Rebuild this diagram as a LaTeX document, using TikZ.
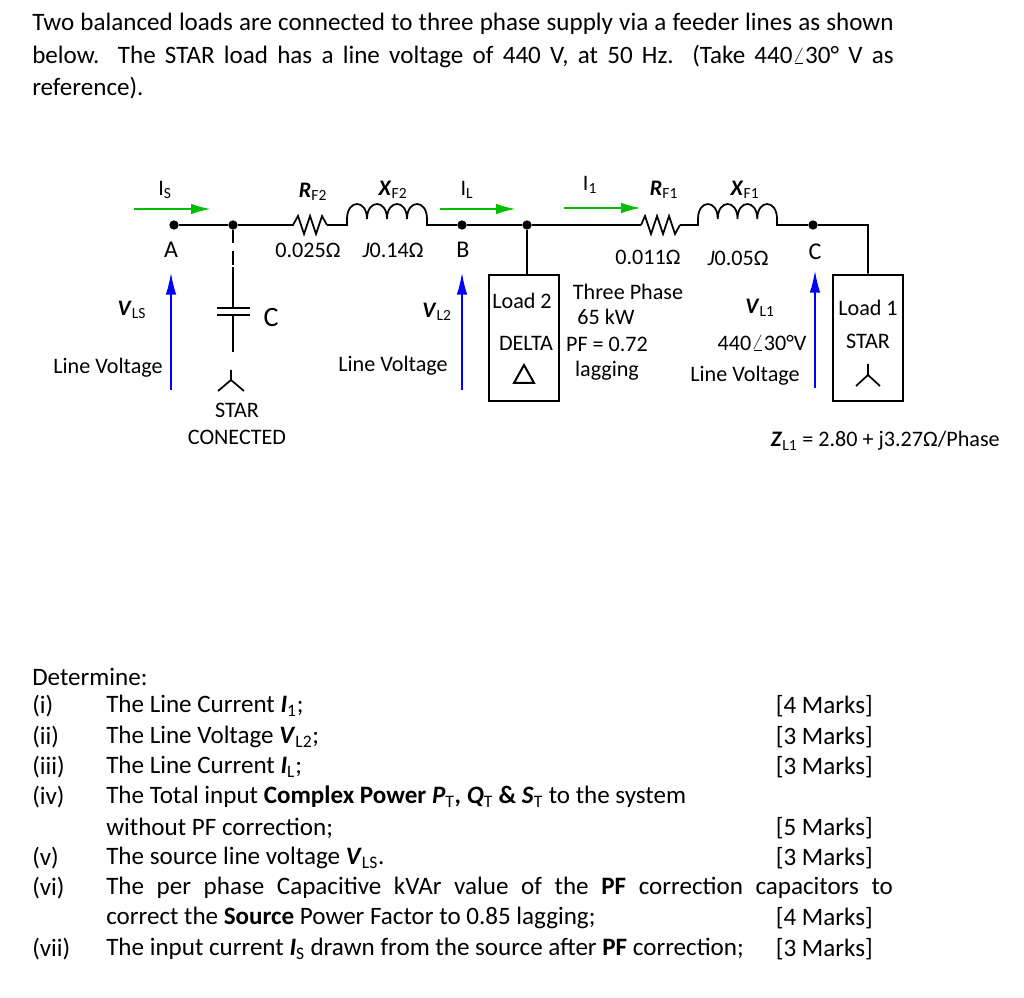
\documentclass[tikz,border=0pt]{standalone}
\usepackage{fontspec}
\setmainfont{Carlito}
\usetikzlibrary{arrows.meta}
\begin{document}
\begin{tikzpicture}[x=0.75pt,y=-0.75pt,
 txt/.style={font=\fontsize{18.8}{22}\selectfont,inner sep=0pt},
 lab/.style={font=\fontsize{16.6}{19}\selectfont,inner sep=0pt},
 wire/.style={line width=1.3pt},
 dot/.style={circle,fill=black,inner sep=0pt,minimum size=7pt},
 garr/.style={line width=1.8pt,green!75!black,-{Latex[length=15pt,width=8pt]}},
 barr/.style={line width=1.8pt,blue,-{Latex[length=17pt,width=8pt]}},
 box/.style={draw,line width=1.5pt,minimum width=52pt,minimum height=95pt,inner sep=0pt}]
\useasboundingbox (0,0) rectangle (1024,998);
% top text
\node[txt,anchor=west] (t1) at (32,24) {\makebox[646pt][s]{Two balanced loads are connected to three phase supply via a feeder lines as shown}};
\node[txt,anchor=west] (t2) at (32,56) {\makebox[646pt][s]{below.\ \ The STAR load has a line voltage of 440 V, at 50 Hz.\ \ (Take 440\ensuremath{\angle}30° V as}};
\node[txt,anchor=west] (t3) at (32,88) {reference).};
% nodes
\node[dot] (A) at (174,225) {};
\node[dot] (N1) at (233,225) {};
\node[dot] (B) at (462,225) {};
\node[dot] (J) at (527,225) {};
\node[dot] (C) at (813,225) {};
\coordinate (r2a) at (288,225); \coordinate (r2b) at (327,225);
\coordinate (x2a) at (347,225); \coordinate (x2b) at (427,225);
\coordinate (r1a) at (641,225); \coordinate (r1b) at (680,225);
\coordinate (x1a) at (698,225); \coordinate (x1b) at (777,225);
\node[box] (L2) at (524,338) {};
\node[box] (L1) at (868,338) {};
% wires
\draw[wire] (A) -- (N1) -- (r2a);
\draw[wire] (r2a) -- ++(5,0) -- ++(5,-9) -- ++(6,18) -- ++(6,-18) -- ++(6,18) -- ++(6,-18) -- ++(5,9) -- (r2b);
\draw[wire] (r2b) -- ++(20,0) -- ++(0,-6) .. controls +(0,-20) and +(0,-20) .. ++(20,0) .. controls +(0,-20) and +(0,-20) .. ++(20,0) .. controls +(0,-20) and +(0,-20) .. ++(20,0) .. controls +(0,-20) and +(0,-20) .. ++(20,0) -- (x2b) -- (B) -- (J) -- (r1a);
\draw[wire] (J) -- (L2.north -| J);
\draw[wire] (r1a) -- ++(4,-9) -- ++(6,18) -- ++(6,-18) -- ++(6,18) -- ++(6,-18) -- ++(6,18) -- ++(5,-9) -- (r1b);
\draw[wire] (r1b) -- (x1a) -- ++(0,-6) .. controls +(0,-20) and +(0,-20) .. ++(19.75,0) .. controls +(0,-20) and +(0,-20) .. ++(19.75,0) .. controls +(0,-20) and +(0,-20) .. ++(19.75,0) .. controls +(0,-20) and +(0,-20) .. ++(19.75,0) -- (x1b) -- (C) -- (868,225) -- (L1.north);
% capacitor
\coordinate (c1) at (233,267); \coordinate (c2) at (233,308); \coordinate (c3) at (233,315); \coordinate (c4) at (233,352);
\draw[wire,dash pattern=on 10pt off 6pt] (N1) -- (c1);
\draw[wire] (c1) -- (c2) (c3) -- (c4);
\draw[line width=1.8pt] (217,308) -- (250,308) (217,315) -- (250,315);
\node[font=\fontsize{21}{22}\selectfont,inner sep=0pt] (Clab) at (271,318) {C};
% star symbol near cap
\draw[line width=1.3pt] (231,370) -- (231,380) -- (218,391) (231,380) -- (244,391);
\node[lab] (st) at (237,410) {STAR};
\node[lab] (co) at (237,437) {CONECTED};
% left labels
\draw[garr] (134,209) -- (211,209);
\node[lab] (Is) at (165,190) {I\textsubscript{S}};
\draw[garr] (440,209) -- (516,209);
\node[lab] (IL) at (467,190) {I\textsubscript{L}};
\node[lab] (Rf2) at (313,192) {\textbf{\textit{R}}\textsubscript{F2}};
\node[lab] (Xf2) at (393,190) {\textbf{\textit{X}}\textsubscript{F2}};
\node[lab] (v1) at (308,250) {0.025Ω};
\node[lab] (v2) at (393,250) {\textit{J}0.14Ω};
\node[lab,font=\fontsize{18}{20}\selectfont] (Al) at (171,250) {A};
\node[lab,font=\fontsize{18}{20}\selectfont] (Bl) at (463,250) {B};
\coordinate (vls0) at (171,390); \coordinate (vls1) at (171,272);
\draw[barr] (vls0) -- (vls1);
\coordinate (vl20) at (462,390); \coordinate (vl21) at (462,272);
\draw[barr] (vl20) -- (vl21);
\node[lab] (VLS) at (132,310) {\textbf{\textit{V}}\textsubscript{LS}};
\node[lab] (VL2) at (437,312) {\textbf{\textit{V}}\textsubscript{L2}};
\node[lab] (lv1) at (108,368) {Line Voltage};
\node[lab] (lv2) at (393,366) {Line Voltage};
% load2
\node[lab] (l2a) at (522,301) {Load 2};
\node[lab] (l2b) at (526,343) {DELTA};
\draw[line width=1.5pt] (514,383) -- (534,383) -- (524,365) -- cycle;
% right labels
\draw[garr] (564,208) -- (641,208);
\node[lab] (I1) at (590,185) {I\textsubscript{1}};
\node[lab] (Rf1) at (664,190) {\textbf{\textit{R}}\textsubscript{F1}};
\node[lab] (Xf1) at (745,190) {\textbf{\textit{X}}\textsubscript{F1}};
\node[lab] (v3) at (648,257) {0.011Ω};
\node[lab] (v4) at (738,258) {\textit{J}0.05Ω};
\node[lab,font=\fontsize{18}{20}\selectfont] (Cl) at (815,252) {C};
\coordinate (vl10) at (815,388); \coordinate (vl11) at (815,270);
\draw[barr] (vl10) -- (vl11);
\node[lab] (VL1) at (760,308) {\textbf{\textit{V}}\textsubscript{L1}};
\node[lab] (ang) at (762,343) {440\ensuremath{\angle}30°V};
\node[lab] (lv3) at (745,376) {Line Voltage};
\node[lab] (tp) at (628,292) {Three Phase};
\node[lab] (kw) at (606,317) {65 kW};
\node[lab] (pf) at (607,344) {PF = 0.72};
\node[lab] (lg) at (607,371) {lagging};
\node[lab] (l1a) at (868,308) {Load 1};
\node[lab] (l1b) at (868,341) {STAR};
\draw[line width=1.3pt] (868,364) -- (868,375) -- (856,386) (868,375) -- (880,386);
\node[lab,anchor=east] (Z) at (1000,441) {\textbf{\textit{Z}}\textsubscript{L1} = 2.80 + j3.27Ω/Phase};
% questions
\node[txt,anchor=west] (det) at (32,677) {Determine:};
\foreach \n/\y/\l in {a/706/(i),b/737/(ii),c/767/(iii),d/797/(iv),e/858/(v),f/888/(vi),g/949/(vii)}
  \node[txt,anchor=west] (q\n) at (32,\y) {\l};
\node[txt,anchor=west] (ta) at (106,706) {The Line Current \textbf{\textit{I}}\textsubscript{1};};
\node[txt,anchor=west] (tb) at (106,737) {The Line Voltage \textbf{\textit{V}}\textsubscript{L2};};
\node[txt,anchor=west] (tc) at (106,767) {The Line Current \textbf{\textit{I}}\textsubscript{L};};
\node[txt,anchor=west] (td) at (106,797) {The Total input \textbf{Complex Power} \textbf{\textit{P}}\textsubscript{T}\textbf{, \textit{Q}}\textsubscript{T} \textbf{\& \textit{S}}\textsubscript{T} to the system};
\node[txt,anchor=west] (td2) at (106,828) {without PF correction;};
\node[txt,anchor=west] (te) at (106,858) {The source line voltage \textbf{\textit{V}}\textsubscript{LS}.};
\node[txt,anchor=west] (tf) at (106,888) {\makebox[590pt][s]{The per phase Capacitive kVAr value of the \textbf{PF} correction capacitors to}};
\node[txt,anchor=west] (tf2) at (106,918) {correct the \textbf{Source} Power Factor to 0.85 lagging;};
\node[txt,anchor=west] (tg) at (106,949) {The input current \textbf{\textit{I}}\textsubscript{S} drawn from the source after \textbf{PF} correction;};
\foreach \n/\y/\m in {a/706/4,b/737/3,c/767/3,d/828/5,e/858/3,f/918/4,g/949/3}
  \node[txt,anchor=east] (m\n) at (873,\y) {[\m{} Marks]};
\end{tikzpicture}
\end{document}
